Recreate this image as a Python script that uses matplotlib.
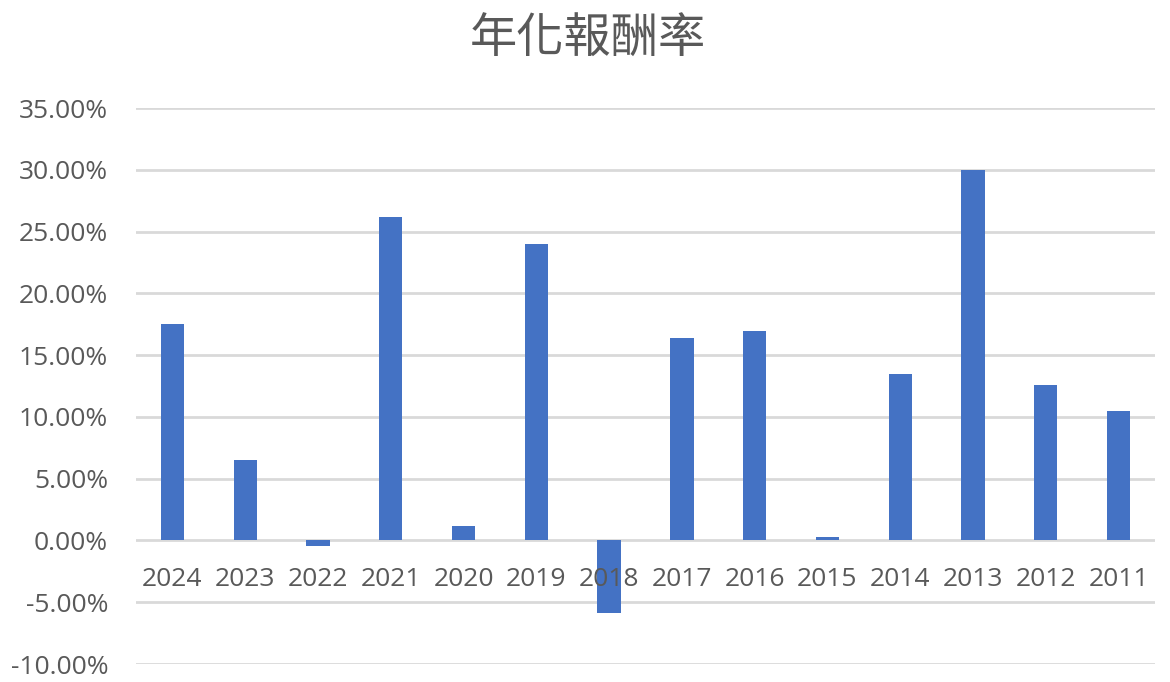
import numpy as np
import matplotlib.pyplot as plt
from matplotlib.ticker import FuncFormatter

years = ["2024", "2023", "2022", "2021", "2020", "2019", "2018",
         "2017", "2016", "2015", "2014", "2013", "2012", "2011"]
returns = [17.55, 6.55, -0.45, 26.2, 1.15, 24.0, -5.9,
           16.4, 16.95, 0.25, 13.5, 30.0, 12.6, 10.5]
y_ticks = [-10, -5, 0, 5, 10, 15, 20, 25, 30, 35]

bar_color = "#4472C4"
grid_color = "#D9D9D9"
text_color = "#595959"

plt.rcParams['font.family'] = ['Open Sans', 'Noto Sans CJK TC', 'DejaVu Sans']

fig = plt.figure(figsize=(11.7, 6.82), dpi=100)
ax = fig.add_axes([136 / 1170, 18 / 682, (1155 - 136) / 1170, (664 - 108) / 682])

x = np.arange(len(years))
ax.bar(x, returns, width=0.32, color=bar_color, zorder=3)

ax.set_ylim(-10, 35)
ax.set_xlim(-0.5, len(years) - 0.5)
ax.set_yticks(y_ticks)
ax.yaxis.set_major_formatter(FuncFormatter(lambda v, p: f"{v:.2f}%"))
ax.tick_params(axis='y', length=0, pad=20, labelsize=19, labelcolor=text_color)
ax.tick_params(axis='x', length=0, labelbottom=False)
ax.grid(axis='y', color=grid_color, linewidth=2, zorder=0)
for s in ax.spines.values():
    s.set_visible(False)

# category labels sit just under the zero line
for xi, yr in zip(x, years):
    ax.annotate(yr, (xi, 0), xytext=(0, -39), textcoords='offset pixels',
                ha='center', va='center', fontsize=19, color=text_color, zorder=4)

fig.text(588 / 1170, 1 - 40 / 682, "年化報酬率", ha='center', va='center',
         fontsize=34, color=text_color, fontweight='light',
         family=['Noto Sans CJK TC', 'DejaVu Sans'])

fig.savefig("out.png", dpi=100)
